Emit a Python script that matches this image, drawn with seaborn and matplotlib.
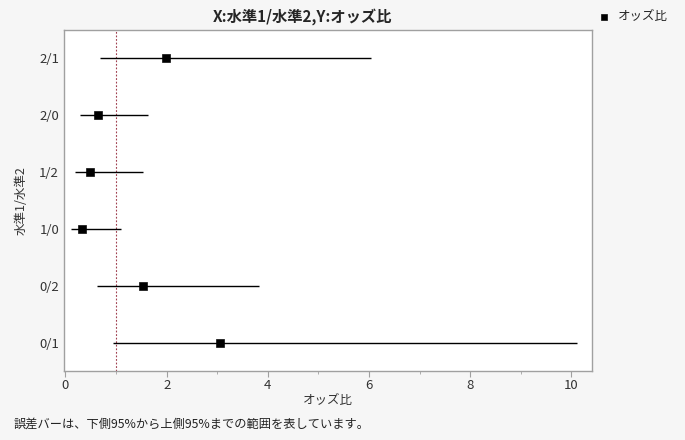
import numpy as np
import matplotlib.pyplot as plt
import seaborn as sns

# odds ratios with 95% limits, top to bottom as shown
groups = ["2/1", "2/0", "1/2", "1/0", "0/2", "0/1"]
odds = [1.99, 0.65, 0.49, 0.32, 1.54, 3.05]
lower = [0.68, 0.28, 0.18, 0.10, 0.63, 0.93]
upper = [6.03, 1.63, 1.54, 1.09, 3.83, 10.11]

sns.set_style("white")
plt.rcParams["font.family"] = ["Noto Sans CJK JP", "DejaVu Sans"]

fig = plt.figure(figsize=(6.85, 4.4), dpi=100)
fig.patch.set_facecolor("#f6f6f6")
ax = fig.add_axes([0.0934, 0.157, 0.771, 0.775])
ax.set_facecolor("white")

ypos = np.arange(len(groups))
ax.axvline(1, color="#a04050", ls=(0, (1.6, 1.6)), lw=0.8, zorder=1)
ax.hlines(ypos, lower, upper, color="black", lw=1, zorder=2)
sns.scatterplot(x=odds, y=ypos, marker="s", s=32, color="black",
                edgecolor="black", ax=ax, zorder=3, label="オッズ比")

ax.set_ylim(len(groups) - 0.5, -0.5)
ax.set_yticks(ypos)
ax.set_yticklabels(groups, fontsize=9.5, color="#333333")
ax.set_xlim(-0.03, 10.41)
ax.set_xticks([0, 2, 4, 6, 8, 10])
ax.set_xticks([1, 3, 5, 7, 9], minor=True)
ax.tick_params(axis="x", which="major", length=4, color="#a0a0a0",
               labelsize=9.5, labelcolor="#333333", bottom=True, pad=2)
ax.tick_params(axis="x", which="minor", length=2.5, color="#a0a0a0", bottom=True)
ax.tick_params(axis="y", length=0)
for sp in ax.spines.values():
    sp.set_color("#a0a0a0")
    sp.set_linewidth(1)

ax.set_xlabel("オッズ比", fontsize=9, color="#333333", labelpad=1)
ax.set_ylabel("水準1/水準2", fontsize=9, color="#333333", labelpad=8)
fig.text(0.442, 0.962, "X:水準1/水準2,Y:オッズ比", fontsize=11,
         fontweight="bold", ha="center", va="center")

ax.legend(loc="upper left", bbox_to_anchor=(0.978, 1.09), frameon=False,
          fontsize=9, handletextpad=0.1, markerscale=0.8)

fig.text(0.02, 0.036, "誤差バーは、下側95%から上側95%までの範囲を表しています。",
         fontsize=8.8, color="#222222", va="center")

fig.savefig("out.png", dpi=100, facecolor=fig.get_facecolor())
